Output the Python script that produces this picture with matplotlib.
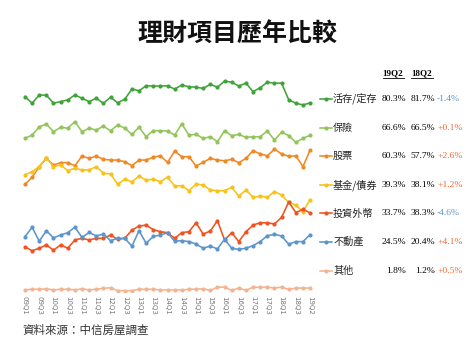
import matplotlib
matplotlib.use("Agg")
import matplotlib.pyplot as plt
import numpy as np

plt.rcParams['font.family'] = ['Noto Sans CJK TC', 'DejaVu Sans']

quarters = ["09Q1", "09Q2", "09Q3", "09Q4", "10Q1", "10Q2", "10Q3", "10Q4",
            "11Q1", "11Q2", "11Q3", "11Q4", "12Q1", "12Q2", "12Q3", "12Q4",
            "13Q1", "13Q2", "13Q3", "13Q4", "14Q1", "14Q2", "14Q3", "14Q4",
            "15Q1", "15Q2", "15Q3", "15Q4", "16Q1", "16Q2", "16Q3", "16Q4",
            "17Q1", "17Q2", "17Q3", "17Q4", "18Q1", "18Q2", "18Q3", "18Q4",
            "19Q2"]

cuentas = [83.0, 80.2, 83.7, 83.6, 80.2, 80.9, 81.6, 83.7, 82.3, 80.9, 82.3,
           80.2, 82.7, 80.4, 81.9, 86.2, 85.5, 87.6, 87.5, 87.5, 87.6, 86.2,
           87.9, 87.2, 87.0, 86.5, 88.2, 87.0, 89.6, 89.1, 87.5, 88.7, 85.1,
           86.8, 89.1, 88.7, 88.7, 81.7, 80.2, 79.5, 80.3]
seguros = [65.3, 66.7, 70.2, 71.4, 68.1, 70.0, 69.6, 72.4, 68.1, 69.6, 68.8,
           70.5, 68.5, 71.0, 69.6, 67.0, 70.0, 66.0, 68.6, 68.5, 68.4, 66.7,
           71.4, 66.7, 67.0, 65.3, 66.0, 63.9, 68.5, 66.4, 67.0, 65.7, 66.0,
           66.0, 68.4, 64.6, 67.9, 66.5, 63.6, 65.3, 66.6]
acciones = [45.8, 48.8, 53.3, 56.8, 54.0, 55.0, 55.0, 53.7, 57.8, 56.8, 57.8,
            56.4, 56.1, 56.1, 55.4, 53.7, 56.1, 56.1, 57.3, 57.9, 55.1, 59.9,
            57.5, 57.5, 53.6, 55.1, 56.8, 56.1, 55.8, 56.4, 55.0, 56.8, 60.1,
            58.7, 57.9, 60.7, 58.7, 57.7, 57.9, 53.3, 60.3]
fondos = [49.8, 51.2, 53.3, 57.1, 53.3, 54.0, 51.6, 52.6, 51.9, 51.9, 53.3,
          50.5, 50.2, 45.9, 47.9, 46.9, 49.3, 47.6, 48.0, 46.9, 48.8, 45.1,
          45.2, 43.1, 45.9, 45.5, 43.4, 43.1, 43.1, 44.5, 40.8, 43.4, 40.3,
          40.8, 40.3, 42.7, 41.3, 38.1, 37.0, 34.2, 39.3]
divisas = [19.3, 17.6, 18.7, 20.1, 17.9, 20.1, 18.7, 22.2, 22.9, 22.2, 22.9,
           22.9, 24.3, 22.5, 22.9, 26.4, 28.1, 28.5, 26.6, 25.7, 25.3, 22.9,
           25.3, 25.7, 29.5, 24.7, 26.0, 30.4, 22.2, 25.3, 21.5, 25.7, 28.5,
           29.5, 29.5, 29.0, 31.8, 38.3, 33.8, 35.2, 33.7]
inmuebles = [23.6, 27.6, 21.7, 26.1, 23.1, 24.3, 25.3, 27.6, 23.3, 25.4, 23.9,
             24.7, 21.9, 22.9, 22.9, 19.6, 26.1, 20.8, 23.7, 24.3, 25.3, 21.7,
             21.9, 21.5, 20.5, 18.7, 19.6, 18.4, 22.5, 18.7, 18.2, 18.7, 19.8,
             21.5, 24.0, 24.6, 23.9, 20.4, 21.5, 21.5, 24.5]
otros = [1.0, 1.3, 1.3, 1.5, 1.0, 1.3, 1.3, 1.0, 1.5, 1.0, 1.3, 1.7, 1.9, 0.7,
         0.7, 0.7, 1.3, 1.3, 1.3, 1.0, 1.0, 1.0, 1.0, 1.3, 1.3, 1.5, 0.8, 2.2,
         2.2, 0.8, 1.8, 0.8, 2.2, 2.1, 2.2, 1.8, 2.2, 1.2, 1.8, 1.8, 1.8]

nombres = ["活存/定存", "保險", "股票", "基金/債券", "投資外幣", "不動產", "其他"]
series = [cuentas, seguros, acciones, fondos, divisas, inmuebles, otros]
colores = ["#3FA33A", "#93C45A", "#EE8A25", "#F7C21A", "#F0531F", "#5B95CD",
           "#F3B492"]
val_19q2 = ["80.3%", "66.6%", "60.3%", "39.3%", "33.7%", "24.5%", "1.8%"]
val_18q2 = ["81.7%", "66.5%", "57.7%", "38.1%", "38.3%", "20.4%", "1.2%"]
cambio = ["-1.4%", "+0.1%", "+2.6%", "+1.2%", "-4.6%", "+4.1%", "+0.5%"]

fig = plt.figure(figsize=(4.74, 3.55), dpi=100)
ax = fig.add_axes([0.0452, 0.1766, 0.6165, 0.611])

x = np.arange(len(quarters))
for datos, color in zip(series, colores):
    ax.plot(x, datos, color=color, linewidth=1.15, marker="o", markersize=2.0)

ax.set_xlim(-0.5, len(quarters) - 0.5)
ax.set_ylim(0, 92)
for lado in ax.spines.values():
    lado.set_visible(False)
ax.set_yticks([])
ax.set_xticks(x[::2])
ax.set_xticklabels(quarters[::2], rotation=270, fontsize=5, color="#777777",
                   family="DejaVu Sans")
ax.tick_params(axis="x", length=0, pad=3)

fig.text(0.5, 0.906, "理財項目歷年比較", ha="center", va="center",
         fontsize=18, fontweight="black", color="#111111")

# tabla de la derecha
fig.text(393 / 474, 1 - 73 / 355, "19Q2", ha="center", va="center",
         fontsize=6.5, fontweight="bold", family="Liberation Serif")
fig.text(422 / 474, 1 - 73 / 355, "18Q2", ha="center", va="center",
         fontsize=6.5, fontweight="bold", family="Liberation Serif")
fig.lines.append(plt.Line2D([383 / 474, 404 / 474], [1 - 78 / 355] * 2,
                            color="black", linewidth=0.6,
                            transform=fig.transFigure))
fig.lines.append(plt.Line2D([411 / 474, 433 / 474], [1 - 78 / 355] * 2,
                            color="black", linewidth=0.6,
                            transform=fig.transFigure))

for i, nombre in enumerate(nombres):
    yy = 1 - (99 + i * 28.6) / 355
    fig.lines.append(plt.Line2D([320 / 474, 325.5 / 474, 332 / 474],
                                [yy, yy, yy], color=colores[i],
                                linewidth=1.15, marker="o", markersize=2.0,
                                markevery=[1], transform=fig.transFigure))
    fig.text(333 / 474, yy, nombre, ha="left", va="center", fontsize=7.3,
             color="#222222")
    fig.text(406 / 474, yy, val_19q2[i], ha="right", va="center",
             fontsize=6.8, family="Liberation Serif")
    fig.text(435 / 474, yy, val_18q2[i], ha="right", va="center",
             fontsize=6.8, family="Liberation Serif")
    c = "#5B95CD" if cambio[i].startswith("-") else "#F26A35"
    fig.text(437 / 474, yy, cambio[i], ha="left", va="center",
             fontsize=6.8, family="Liberation Serif", color=c)

fig.text(22 / 474, 1 - 330 / 355, "資料來源：中信房屋調查", ha="left",
         va="center", fontsize=8.3, color="#333333")

fig.savefig("out.png", dpi=100)
